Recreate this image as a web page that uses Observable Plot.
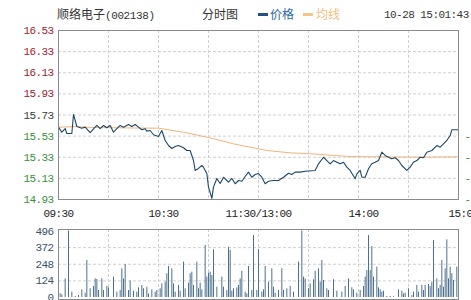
<!DOCTYPE html>
<html>
<head>
<meta charset="utf-8">
<script src="https://cdn.jsdelivr.net/npm/d3@7"></script>
<script src="https://cdn.jsdelivr.net/npm/@observablehq/plot@0.6"></script>
<style>
  html, body { margin: 0; padding: 0; background: #fff; overflow: hidden; }
  #wrap { position: relative; width: 471px; height: 300px; overflow: hidden; }
  #wrap svg { position: absolute; left: 0; overflow: visible; }
  .hd { position: absolute; top: 6px; font-size: 12px; line-height: 16px; white-space: pre; color: #333; }
  .cn { font-family: "Noto Sans CJK SC", sans-serif; }
  .mono { font-family: "Liberation Mono", monospace; }
  .dash { position: absolute; top: 13px; height: 3px; width: 10px; }
  svg text { letter-spacing: -0.6px; }
</style>
</head>
<body>
<div id="wrap">
  <div class="hd cn" style="left:57px;">顺络电子<span class="mono" style="font-size:11px;letter-spacing:-0.4px;">(002138)</span></div>
  <div class="hd cn" style="left:202px;">分时图</div>
  <div class="dash" style="left:258px;background:#1f5280;"></div>
  <div class="hd cn" style="left:270px;color:#2a69a0;">价格</div>
  <div class="dash" style="left:303px;background:#f3c488;"></div>
  <div class="hd cn" style="left:316px;color:#f0c080;">均线</div>
  <div class="hd mono" style="left:384px;top:7px;letter-spacing:-0.55px;font-size:11px;">10-28 15:01:43</div>
</div>
<script>
// ---- axis / tick data ----
const timeTicks = [0, 60, 120, 180, 240];
const timeLabels = ["09:30", "10:30", "11:30/13:00", "14:00", "15:00"];
const gridMinutes = [30, 60, 90, 120, 150, 180, 210];
const priceTicks = [16.53, 16.33, 16.13, 15.93, 15.73, 15.53, 15.33, 15.13, 14.93];
const prevClose = 15.73;
const pctTicks = [15.53, 15.33, 15.13, 14.93];
const pctLabels = ["-1.27%", "-2.54%", "-3.81%", "-5.09%"];
const volTicks = [0, 124, 248, 372, 496];

// ---- price series (minute index from 09:30, trading minutes) ----
const priceMinutes = [0,2,4,5,8,9,11,14,16,19,23,25,27,29,31,33,35,37,39,42,44,46,48,50,52,53,55,57,60,62,64,66,68,70,72,75,77,79,81,82,84,86,87,89,90,92,93,95,97,99,101,102,104,106,108,110,112,114,116,118,120,122,124,126,129,132,135,138,140,142,145,148,154,156,159,161,163,165,167,169,171,173,175,178,179,181,182,184,186,188,190,192,194,196,198,200,202,204,206,209,211,213,215,217,219,221,224,227,229,231,233,235,236,240];
const prices = [15.615,15.567,15.602,15.555,15.555,15.735,15.621,15.605,15.615,15.564,15.631,15.600,15.631,15.609,15.631,15.567,15.600,15.631,15.615,15.640,15.621,15.640,15.615,15.590,15.600,15.577,15.583,15.543,15.527,15.583,15.489,15.441,15.413,15.432,15.441,15.420,15.394,15.394,15.299,15.205,15.224,15.252,15.236,15.176,15.047,14.940,15.047,15.129,15.082,15.141,15.110,15.094,15.129,15.079,15.110,15.103,15.148,15.189,15.141,15.167,15.176,15.141,15.079,15.103,15.110,15.110,15.141,15.179,15.167,15.189,15.189,15.198,15.205,15.268,15.330,15.299,15.268,15.299,15.283,15.268,15.283,15.236,15.205,15.126,15.173,15.205,15.141,15.141,15.221,15.268,15.283,15.299,15.378,15.347,15.330,15.315,15.325,15.299,15.252,15.205,15.236,15.283,15.299,15.330,15.325,15.378,15.394,15.441,15.425,15.457,15.489,15.536,15.590,15.590];

// ---- average price series ----
const avgMinutes = [0,10,20,30,40,50,60,75,90,105,115,125,139,151,165,175,185,195,210,225,240];
const avgPrices = [15.615,15.620,15.612,15.610,15.608,15.606,15.605,15.567,15.517,15.457,15.425,15.394,15.372,15.363,15.347,15.337,15.335,15.333,15.332,15.332,15.334];

// ---- volume series ----
const volMinutes = [1,2,4,6,8,10,12,14,16,17,19,21,22,23,24,26,27,29,30,33,35,37,38,39,40,42,43,45,47,48,50,51,53,54,56,58,59,61,62,64,65,66,68,69,70,72,73,75,76,78,79,80,81,83,84,85,86,88,89,90,91,92,93,95,98,99,101,102,103,104,105,107,108,109,110,112,113,114,116,117,119,120,122,123,124,126,128,129,130,132,134,135,137,139,141,144,146,147,148,150,151,153,154,156,157,158,159,161,162,165,167,170,172,174,176,177,179,181,183,184,185,186,187,188,189,191,192,193,194,195,197,199,201,204,206,207,208,210,212,213,215,216,218,219,220,222,223,224,225,227,228,229,230,231,232,233,234,235,236,237,239];
const volumes = [27,20,139,496,40,8,15,57,32,276,65,82,139,134,52,139,52,82,72,152,40,52,214,139,246,52,122,47,40,72,90,65,77,27,57,40,52,65,102,114,177,231,214,102,40,90,47,264,65,107,177,189,90,264,65,107,57,388,152,182,189,164,356,77,152,77,52,375,351,47,65,72,90,139,196,40,27,231,52,462,52,356,40,57,231,114,214,77,32,52,214,52,65,82,40,264,496,152,139,65,102,132,196,214,114,276,127,65,52,132,47,40,82,139,72,57,32,52,82,152,201,462,201,380,152,226,72,57,40,47,8,8,5,57,47,27,32,65,15,40,90,40,90,52,90,97,82,114,425,139,65,90,276,77,214,430,139,226,177,127,226];

const pr = priceMinutes.map((m, i) => ({m, p: prices[i]}));
const avg = avgMinutes.map((m, i) => ({m, p: avgPrices[i]}));
const vol = volMinutes.map((m, i) => ({m, v: volumes[i]}));

const red = "#a3182e", green = "#3a8f3a", neutral = "#3a3a3a";
const gridStyle = {stroke: "#cfcfcf", strokeDasharray: "3,2", strokeWidth: 1};
const font = {fontFamily: "Liberation Mono, monospace", fontSize: "11px", background: "transparent", overflow: "visible"};

const pricePlot = Plot.plot({
  width: 471, height: 225,
  marginLeft: 58, marginRight: 13, marginTop: 30, marginBottom: 26,
  style: font,
  x: {domain: [0, 240], axis: null},
  y: {domain: [14.93, 16.53], axis: null},
  marks: [
    Plot.ruleY(priceTicks.slice(1, -1), gridStyle),
    Plot.ruleX(gridMinutes, gridStyle),
    Plot.line(avg, {x: "m", y: "p", stroke: "#f1b37a", strokeWidth: 1}),
    Plot.line(pr, {x: "m", y: "p", stroke: "#1c4868", strokeWidth: 1.1}),
    Plot.frame({stroke: "#8a8a8a"}),
    Plot.text(priceTicks, {
      y: d => d, text: d => d.toFixed(2), frameAnchor: "left", textAnchor: "end", dx: -5,
      fill: d => d > prevClose + 1e-9 ? red : (d < prevClose - 1e-9 ? green : neutral)
    }),
    Plot.text(timeTicks, {
      x: d => d, text: (d, i) => timeLabels[i], filter: (d, i) => i === 0 || i === 2,
      frameAnchor: "bottom", dy: 17, fill: "#222"
    }),
    Plot.text(timeTicks, {
      x: d => d, text: (d, i) => timeLabels[i], filter: (d, i) => !(i === 0 || i === 2),
      frameAnchor: "bottom", dy: 17, dx: 5, fill: "#222"
    }),
    Plot.text(pctTicks, {
      y: d => d, text: (d, i) => pctLabels[i], frameAnchor: "right", textAnchor: "start", dx: 6, fill: green
    })
  ]
});
pricePlot.style.top = "0px";

const volPlot = Plot.plot({
  width: 471, height: 75,
  marginLeft: 58, marginRight: 13, marginTop: 4, marginBottom: 1,
  style: font,
  x: {domain: [0, 240], axis: null},
  y: {domain: [0, 496], range: [72, 5.5], axis: null},
  marks: [
    Plot.ruleY([124, 248, 372], gridStyle),
    Plot.ruleX(gridMinutes, gridStyle),
    Plot.ruleX(vol, {x: "m", y1: 0, y2: "v", stroke: "#4d708e", strokeWidth: 1}),
    Plot.frame({stroke: "#8a8a8a"}),
    Plot.text(volTicks, {y: d => d, text: d => String(d), frameAnchor: "left", textAnchor: "end", dx: -5, fill: "#3d5266"})
  ]
});
volPlot.style.top = "225px";

const wrap = document.getElementById("wrap");
wrap.appendChild(pricePlot);
wrap.appendChild(volPlot);
</script>
</body>
</html>
